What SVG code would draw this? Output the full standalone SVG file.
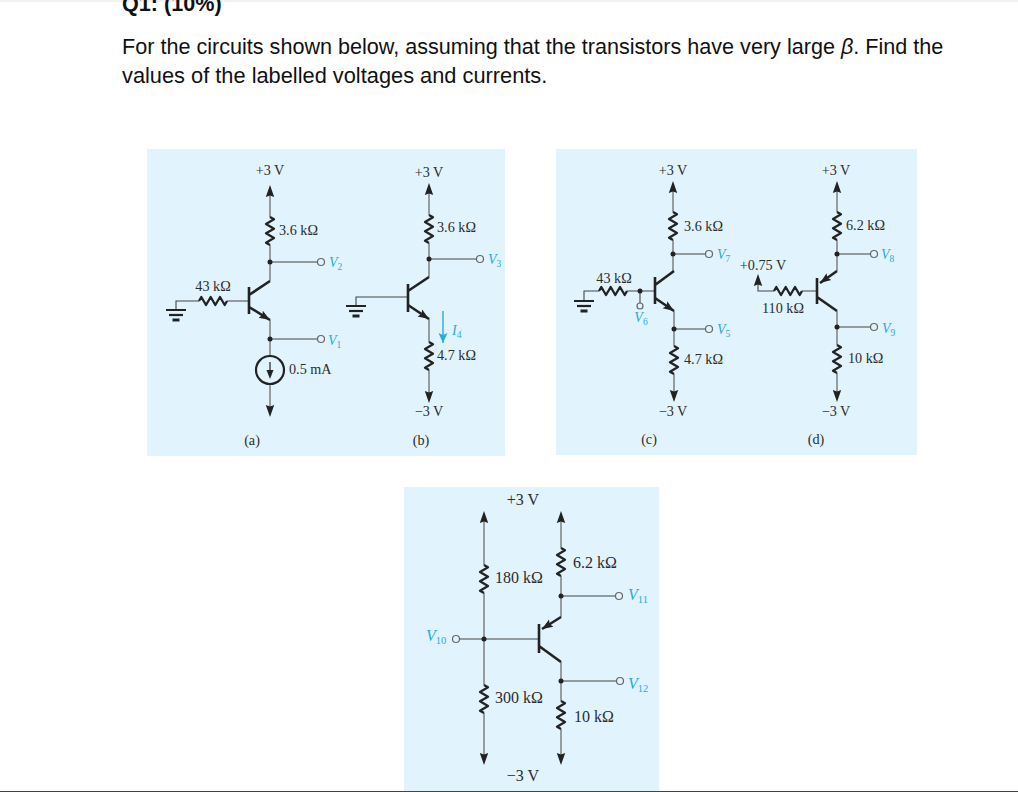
<svg xmlns="http://www.w3.org/2000/svg" width="1018" height="792" viewBox="0 0 1018 792">
<style>
text{font-family:"Liberation Serif","Times New Roman",serif;font-size:14.2px;fill:#2c2c2c}
.big{font-size:16px}
.q{font-family:"Liberation Sans",Arial,sans-serif;font-size:21.6px;fill:#111}
.b{font-weight:bold}
.v{fill:#29abe2;font-style:italic;font-size:14px}
.v tspan{font-size:9.5px;font-style:normal}
.v.big{font-size:16px}
.v.big tspan{font-size:10.5px}
.m{text-anchor:middle}
.panel{fill:#e1f3fd}
.w{fill:none;stroke:#777;stroke-width:1.4}
.h{fill:none;stroke:#444;stroke-width:1.1}
.t{fill:none;stroke:#222;stroke-width:2.600}
.r{fill:none;stroke:#222;stroke-width:2.300;stroke-linejoin:round}
.g{fill:none;stroke:#222}
.dot{fill:#222}
.open{fill:#e1f3fd;stroke:#666;stroke-width:1.2}
.a{fill:#222}
</style>
<defs>
<marker id="emit" markerUnits="userSpaceOnUse" markerWidth="12" markerHeight="10" refX="11" refY="5" orient="auto"><path d="M0 0.8L11 5L0 9.2L2 5Z" fill="#222"/></marker>
<marker id="blue" markerUnits="userSpaceOnUse" markerWidth="10" markerHeight="12" refX="10" refY="5" orient="auto"><path d="M0 0.5L10 5L0 9.5L2 5Z" fill="#29abe2"/></marker>
<path id="rv" class="r" d="M0 0L4 2.3L-4 7L4 11.7L-4 16.3L4 21L-4 25.7L0 28"/>
<path id="rh" class="r" d="M0 0L2.3 -4L7 4L11.7 -4L16.3 4L21 -4L25.7 4L28 0"/>
<path id="up" class="a" d="M0 0L4.2 12L0 10.5L-4.2 12Z"/>
<path id="down" class="a" d="M0 0L4.2 -12L0 -10.5L-4.2 -12Z"/>
<g id="gnd"><path class="g" stroke-width="2" d="M-10 0H10"/><path class="g" stroke-width="2.200" d="M-7 5H7"/><path class="g" stroke-width="3" d="M-3.500 10H3.500"/></g>
</defs>
<rect width="1018" height="792" fill="#fff"/>
<rect width="1018" height="2" fill="#f2f2f2"/>
<g id="question">
<text class="q b" x="122" y="11">Q1: (10%)</text>
<text class="q" x="122" y="54">For the circuits shown below, assuming that the transistors have very large <tspan font-style="italic">β</tspan>. Find the</text>
<text class="q" style="font-size:21.8px" x="122" y="83">values of the labelled voltages and currents.</text>
</g>
<g id="panels">
<rect class="panel" x="147" y="149" width="358" height="307"/>
<rect class="panel" x="556" y="149" width="361" height="306"/>
<rect class="panel" x="404" y="487" width="255" height="305"/>
</g>
<g id="connectors">
<path class="w" d="M270 195V217M270 245V281M270 320V356M270 384V407"/>
<path class="h" d="M270 262H317.500M270 339H317.500M176 310V301H199M227 301H249"/>
<path class="w" d="M429 193V215M429 243V277M429 319V342M429 370V393"/>
<path class="h" d="M429 259H476.500M356 306V297H408"/>
<path class="w" d="M673 190V212M673 240V271M674 311V346M674 374V392"/>
<path class="h" d="M673 254H705.500M674 329H705.500M584 301V291H599M627 291H655M640 291V303.500"/>
<path class="w" d="M837 190V212M837 240V271M837 311V345M837 373V392"/>
<path class="h" d="M837 254H870.500M837 327H870.500M758 283V291H774M802 291H817"/>
<path class="w" d="M484 520V565M484 593V685M484 713V755M561 520V548M561 576V617M561 662V701M561 729V755"/>
<path class="h" d="M459.500 639H539M561 596H615.500M561 681H616.500"/>
</g>
<g id="a-circuit">
<use href="#up" x="270" y="185"/>
<use id="a-r1" href="#rv" x="270" y="217"/>
<use id="a-r2" href="#rh" x="199" y="301"/>
<use href="#gnd" x="176" y="310"/>
<g id="a-q1"><path class="t" d="M249 287V314M249 295L270 281"/><path class="t" d="M249 307L270 320" marker-end="url(#emit)"/></g>
<g id="a-src"><circle class="g" stroke-width="2.200" cx="270" cy="370" r="14" fill="none"/><path class="g" stroke-width="1.2" d="M270 362V372"/><path class="a" d="M270 379L266.500 370H273.500Z"/></g>
<use href="#down" x="270" y="417"/>
<circle class="dot" cx="270" cy="262" r="2.500"/><circle class="dot" cx="270" cy="339" r="2.500"/>
<circle class="open" cx="321" cy="262" r="3.500"/><circle class="open" cx="321" cy="339" r="3.500"/>
<text class="m" x="270" y="175">+3 V</text>
<text x="279" y="235">3.6 kΩ</text>
<text class="m" x="213" y="291">43 kΩ</text>
<text x="289" y="374">0.5 mA</text>
<text class="m" x="252" y="445">(a)</text>
<text class="v" x="329" y="267">V<tspan dy="3">2</tspan></text>
<text class="v" x="328" y="345">V<tspan dy="3">1</tspan></text>
</g>
<g id="b-circuit">
<use href="#up" x="429" y="183"/>
<use id="b-r1" href="#rv" x="429" y="215"/>
<use id="b-r2" href="#rv" x="429" y="342"/>
<use href="#gnd" x="356" y="306"/>
<g id="b-q1"><path class="t" d="M408 284V312M408 291L429 277"/><path class="t" d="M408 305L429 319" marker-end="url(#emit)"/></g>
<use href="#down" x="429" y="403"/>
<circle class="dot" cx="429" cy="259" r="2.500"/>
<circle class="open" cx="480" cy="259" r="3.500"/>
<path id="i4-arrow" d="M443 311V343" stroke="#29abe2" stroke-width="1.400" fill="none" marker-end="url(#blue)"/>
<text class="m" x="429" y="177">+3 V</text>
<text x="437" y="232">3.6 kΩ</text>
<text x="437" y="360">4.7 kΩ</text>
<text class="m" x="429" y="416">−3 V</text>
<text class="m" x="421" y="445">(b)</text>
<text class="v" x="488" y="264">V<tspan dy="3">3</tspan></text>
<text class="v" x="452" y="335">I<tspan dy="3">4</tspan></text>
</g>
<g id="c-circuit">
<use href="#up" x="673" y="181"/>
<use id="c-r1" href="#rv" x="673" y="212"/>
<use id="c-r2" href="#rv" x="674" y="346"/>
<use id="c-r3" href="#rh" x="599" y="291"/>
<use href="#gnd" x="584" y="301"/>
<g id="c-q1"><path class="t" d="M655 277V304M655 285L674 271"/><path class="t" d="M655 298L674 311" marker-end="url(#emit)"/></g>
<use href="#down" x="674" y="402"/>
<circle class="dot" cx="673" cy="254" r="2.500"/><circle class="dot" cx="674" cy="329" r="2.500"/><circle class="dot" cx="640" cy="291" r="2.500"/>
<circle class="open" cx="709" cy="254" r="3.500"/><circle class="open" cx="709" cy="329" r="3.500"/><circle class="open" cx="640" cy="306" r="3"/>
<text class="m" x="673" y="175">+3 V</text>
<text x="684" y="231">3.6 kΩ</text>
<text x="684" y="364">4.7 kΩ</text>
<text class="m" x="614" y="283">43 kΩ</text>
<text class="m" x="673" y="416">−3 V</text>
<text class="m" x="649" y="444">(c)</text>
<text class="v" x="717" y="259">V<tspan dy="3">7</tspan></text>
<text class="v" x="717" y="334">V<tspan dy="3">5</tspan></text>
<text class="v m" x="641" y="322">V<tspan dy="3">6</tspan></text>
</g>
<g id="d-circuit">
<use href="#up" x="837" y="181"/>
<use id="d-r1" href="#rv" x="837" y="212"/>
<use id="d-r2" href="#rv" x="837" y="345"/>
<use id="d-r3" href="#rh" x="774" y="291"/>
<use href="#up" x="758" y="274"/>
<g id="d-q1"><path class="t" d="M817 278V304M817 297L837 311"/><path class="t" d="M837 271L820 283" marker-end="url(#emit)"/></g>
<use href="#down" x="837" y="402"/>
<circle class="dot" cx="837" cy="254" r="2.500"/><circle class="dot" cx="837" cy="327" r="2.500"/>
<circle class="open" cx="874" cy="254" r="3.500"/><circle class="open" cx="874" cy="327" r="3.500"/>
<text class="m" x="836" y="175">+3 V</text>
<text x="846" y="230">6.2 kΩ</text>
<text x="848" y="363">10 kΩ</text>
<text class="m" x="763" y="270">+0.75 V</text>
<text class="m" x="783" y="313">110 kΩ</text>
<text class="m" x="836" y="416">−3 V</text>
<text class="m" x="816" y="444">(d)</text>
<text class="v" x="881" y="259">V<tspan dy="3">8</tspan></text>
<text class="v" x="882" y="333">V<tspan dy="3">9</tspan></text>
</g>
<g id="e-circuit">
<use href="#up" x="484" y="511"/><use href="#up" x="561" y="511"/>
<use id="e-r1" href="#rv" x="484" y="565"/>
<use id="e-r2" href="#rv" x="484" y="685"/>
<use id="e-r3" href="#rv" x="561" y="548"/>
<use id="e-r4" href="#rv" x="561" y="701"/>
<g id="e-q1"><path class="t" d="M539 624V653M539 646L561 662"/><path class="t" d="M561 617L542 629" marker-end="url(#emit)"/></g>
<use href="#down" x="484" y="765"/><use href="#down" x="561" y="765"/>
<circle class="dot" cx="484" cy="639" r="2.500"/><circle class="dot" cx="561" cy="596" r="2.500"/><circle class="dot" cx="561" cy="681" r="2.500"/>
<circle class="open" cx="456" cy="639" r="3.500"/><circle class="open" cx="619" cy="596" r="3.500"/><circle class="open" cx="620" cy="681" r="3.500"/>
<text class="m big" x="523" y="505">+3 V</text>
<text class="m big" x="523" y="781">−3 V</text>
<text class="big" x="495" y="583">180 kΩ</text>
<text class="big" x="573" y="568">6.2 kΩ</text>
<text class="big" x="495" y="703">300 kΩ</text>
<text class="big" x="574" y="722">10 kΩ</text>
<text class="v big" x="426" y="641">V<tspan dy="3">10</tspan></text>
<text class="v big" x="628" y="600">V<tspan dy="3">11</tspan></text>
<text class="v big" x="628" y="689">V<tspan dy="3">12</tspan></text>
</g>
<rect id="rule" x="0" y="791" width="1018" height="1" fill="#444"/>
</svg>
